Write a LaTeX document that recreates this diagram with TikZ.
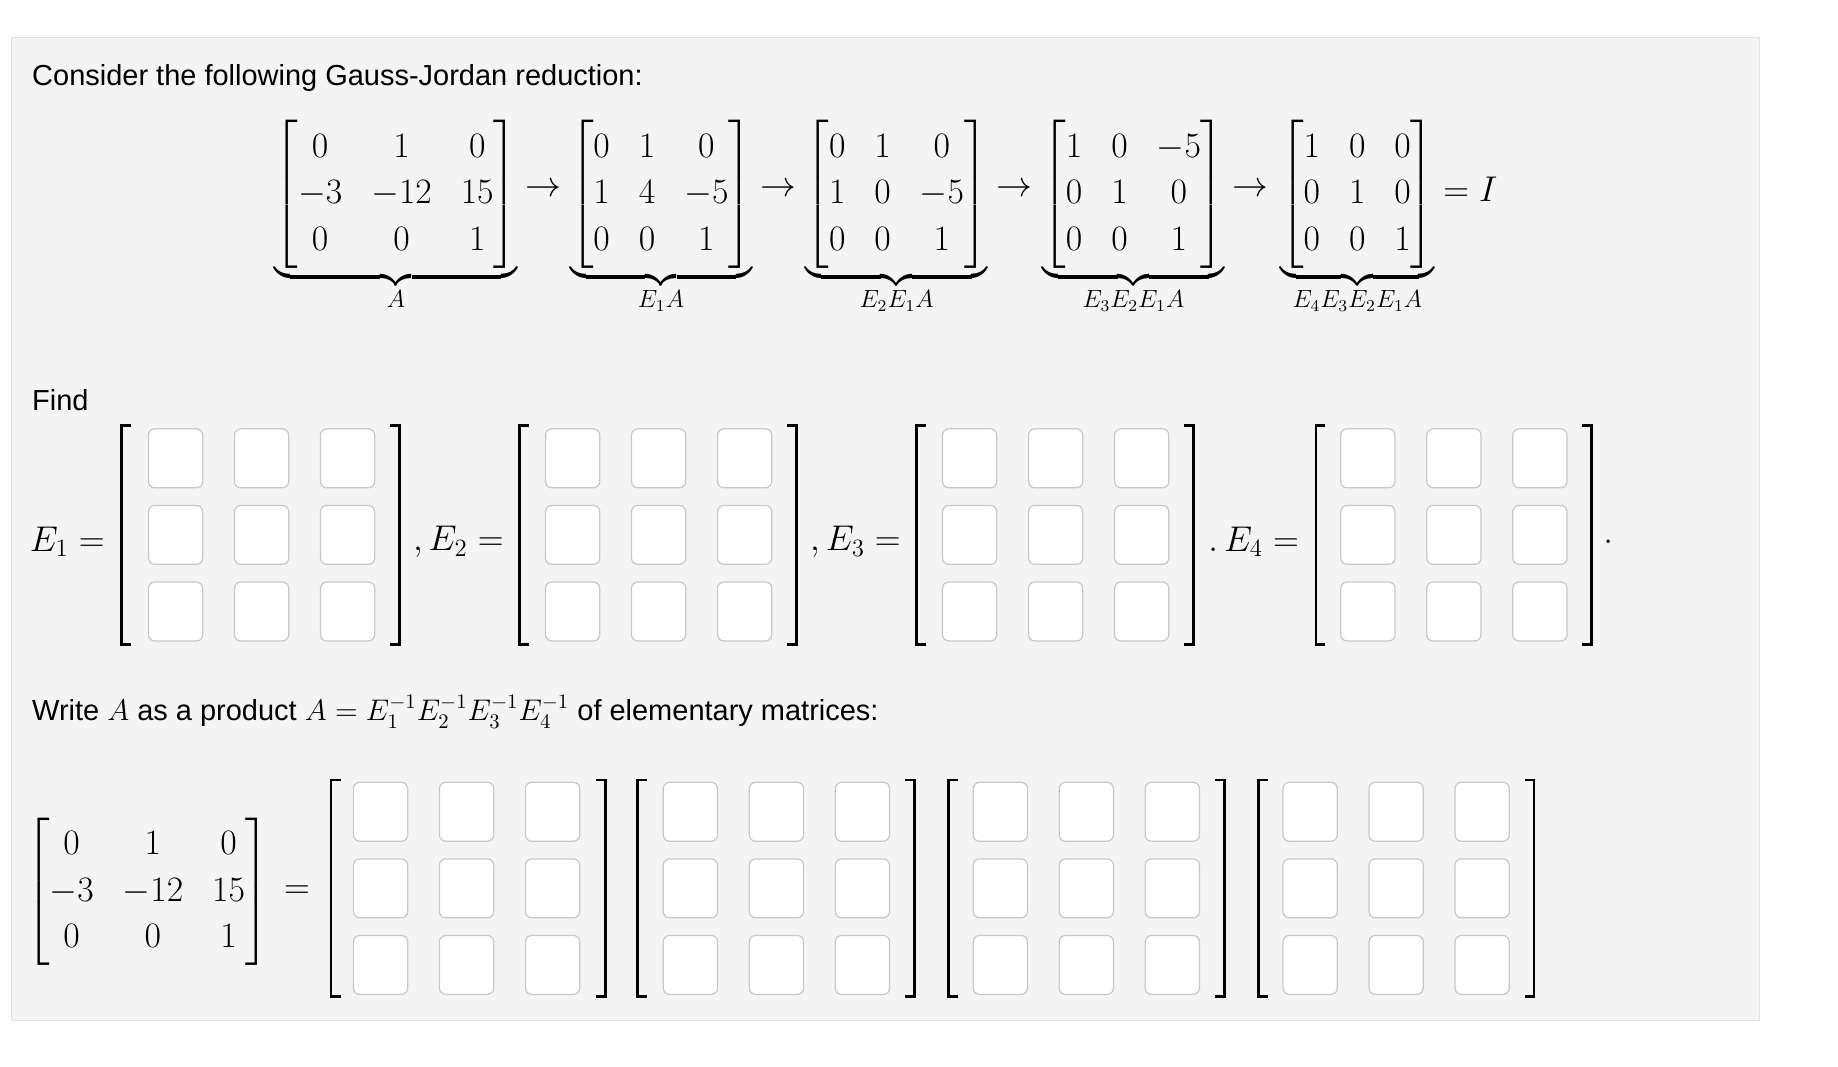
\documentclass[tikz,border=0pt]{standalone}
\usepackage{amsmath,amssymb}
\usepackage{fontspec}
\setsansfont{Liberation Sans}
\usetikzlibrary{positioning}
\definecolor{panelbg}{HTML}{F4F4F4}
\definecolor{panelrule}{HTML}{E0E0E0}
\definecolor{boxrule}{HTML}{C8C8C8}
\renewcommand{\arraystretch}{1.12}
\setlength{\arraycolsep}{7pt}
\tikzset{
  inbox/.style={draw=boxrule,fill=white,rounded corners=3pt,minimum width=0.92cm,minimum height=1.0cm,inner sep=0,line width=0.6pt},
  prose/.style={anchor=west,font=\sffamily\fontsize{14}{16}\selectfont,inner sep=0},
  mathtxt/.style={font=\fontsize{17}{20}\selectfont,inner sep=0},
  brk/.style={line width=1.3pt}
}
\begin{document}
\begin{tikzpicture}[x=0.02cm,y=-0.02cm]
\useasboundingbox (0,0) rectangle (1560,905);
\draw[panelrule,fill=panelbg] (10,32) rectangle (1493,866);
% heading text
\node[prose] (consider) at (27,66) {Consider the following Gauss-Jordan reduction:};
\node[prose] (find) at (27,340) {Find};
\node[prose] (write) at (27,604) {Write $A$ as a product $A=E_1^{-1}E_2^{-1}E_3^{-1}E_4^{-1}$ of elementary matrices:};
% reduction chain
\node[mathtxt,anchor=north] (mA) at (336,102) {$\underbrace{\begin{bmatrix}0&1&0\\-3&-12&15\\0&0&1\end{bmatrix}}_{\textstyle\scriptstyle A}$};
\node[mathtxt,anchor=north] (m1) at (561,102) {$\underbrace{\begin{bmatrix}0&1&0\\1&4&-5\\0&0&1\end{bmatrix}}_{\textstyle\scriptstyle E_1A}$};
\node[mathtxt,anchor=north] (m2) at (761,102) {$\underbrace{\begin{bmatrix}0&1&0\\1&0&-5\\0&0&1\end{bmatrix}}_{\textstyle\scriptstyle E_2E_1A}$};
\node[mathtxt,anchor=north] (m3) at (962,102) {$\underbrace{\begin{bmatrix}1&0&-5\\0&1&0\\0&0&1\end{bmatrix}}_{\textstyle\scriptstyle E_3E_2E_1A}$};
\node[mathtxt,anchor=north] (m4) at (1152,102) {$\underbrace{\begin{bmatrix}1&0&0\\0&1&0\\0&0&1\end{bmatrix}}_{\textstyle\scriptstyle E_4E_3E_2E_1A}$};
\foreach \x/\n in {461/1,661/2,861/3,1061/4}
  \node[mathtxt] (arr\n) at (\x,161) {$\rightarrow$};
\node[mathtxt] (eqI) at (1248,161) {$=I$};
% E_i labels
\node[mathtxt] (lE1) at (57,460) {$E_1=$};
\node[mathtxt] (lE2) at (389,460) {$,E_2=$};
\node[mathtxt] (lE3) at (726,460) {$,E_3=$};
\node[mathtxt] (lE4) at (1064,460) {$.\,E_4=$};
\node[mathtxt] (dot) at (1365,460) {$.$};
% input grids for E_i
\foreach \g/\l/\r/\c in {1/103/339/149,2/441/676/486,3/778/1013/823,4/1117/1351/1161}{
  \draw[brk] (\l+8,361) -- (\l,361) -- (\l,547) -- (\l+8,547);
  \draw[brk] (\r-8,361) -- (\r,361) -- (\r,547) -- (\r-8,547);
  \foreach \i in {1,2,3}
    \foreach \j in {1,2,3}
      \node[inbox] (e\g-\i-\j) at (\c+73*\j-73,324+65*\i) {};
}
% product form
\node[mathtxt] (lhs) at (125,757) {$\begin{bmatrix}0&1&0\\-3&-12&15\\0&0&1\end{bmatrix}$};
\node[mathtxt] (eqP) at (252,757) {$=$};
\foreach \g/\l/\r/\c in {1/281/514/323,2/541/776/586,3/805/1039/849,4/1068/1302/1112}{
  \draw[brk] (\l+8,662) -- (\l,662) -- (\l,846) -- (\l+8,846);
  \draw[brk] (\r-8,662) -- (\r,662) -- (\r,846) -- (\r-8,846);
  \foreach \i in {1,2,3}
    \foreach \j in {1,2,3}
      \node[inbox] (p\g-\i-\j) at (\c+73*\j-73,624+65*\i) {};
}
\end{tikzpicture}
\end{document}
